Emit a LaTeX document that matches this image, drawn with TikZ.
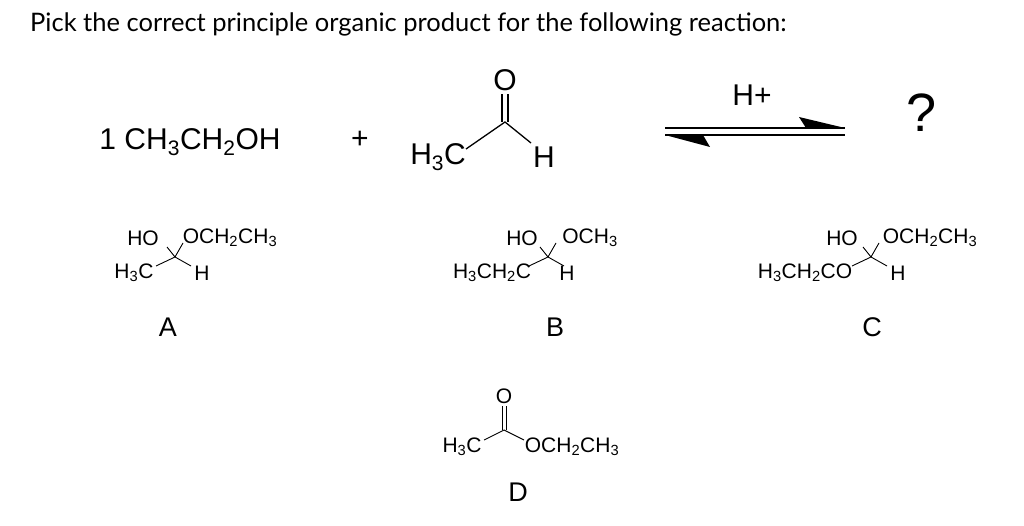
\documentclass[tikz,border=0pt]{standalone}
\usepackage{fontspec}
\setmainfont{Lato}
\newfontfamily\chemfont{Liberation Sans}
\usepackage{tikz}
\usetikzlibrary{calc}
\newcommand{\sub}[1]{\textsubscript{#1}}

\begin{document}
\begin{tikzpicture}[
      x=1pt, y=-1pt,
      big/.style={font=\chemfont\fontsize{30}{32}\selectfont, inner sep=0pt},
      small/.style={font=\chemfont\fontsize{21}{23}\selectfont, inner sep=0pt},
      letter/.style={font=\chemfont\fontsize{27}{29}\selectfont, inner sep=0pt},
      bond/.style={line width=1.3pt}
      ]
    \useasboundingbox (0,0) rectangle (1024,526);
    \node[anchor=west, inner sep=0pt, font=\fontsize{25.5}{27}\selectfont] (title) at (30,24) {Pick the correct principle organic product for the following reaction:};

    % reactants
    \node[big] (eth) at (190,142) {1 CH\sub{3}CH\sub{2}OH};
    \node[big] (plus) at (360,140) {+};
    \node[big] (ald1) at (438,157) {H\sub{3}C};
    \node[big] (ald2) at (544,157) {H};
    \node[big] (ald3) at (505,80) {O};
    \coordinate (c0) at (505,122);
    \draw[bond] (466,149) -- (c0) -- (531,143);
    \draw[bond] ($(c0)+(-3,0)$) -- ($(ald3.south)+(-3,3)$);
    \draw[bond] ($(c0)+(3,0)$) -- ($(ald3.south)+(3,3)$);

    % equilibrium arrow
    \node[big] (cat) at (752,95) {H+};
    \node[font=\chemfont\fontsize{54}{56}\selectfont, inner sep=0pt] (q) at (922,113) {?};
    \coordinate (r1) at (665,128);
    \coordinate (r2) at (845,128);
    \coordinate (l1) at (665,135);
    \coordinate (l2) at (845,135);
    \draw[line width=1.2pt] (r1) -- (r2);
    \draw[line width=1.2pt] (l1) -- (l2);
    \fill (r2) -- (799,117) -- (806,128) -- cycle;
    \fill (l1) -- (710,147) -- (703,135) -- cycle;

    % choice A
    \node[small] (a1) at (143,238) {HO};
    \node[small] (a2) at (230,238) {OCH\sub{2}CH\sub{3}};
    \node[small] (a3) at (134,273) {H\sub{3}C};
    \node[small] (a4) at (202,273) {H};
    \coordinate (ca) at (175,257);
    \draw[line width=0.9pt] (ca) -- (167,247) (ca) -- (183,243) (ca) -- (156,266) (ca) -- (191,266);
    \node[letter] (la) at (168,327) {A};

    % choice B
    \node[small] (b1) at (522,238) {HO};
    \node[small] (b2) at (590,238) {OCH\sub{3}};
    \node[small] (b3) at (492,273) {H\sub{3}CH\sub{2}C};
    \node[small] (b4) at (567,273) {H};
    \coordinate (cb) at (548,257);
    \draw[line width=0.9pt] (cb) -- (540,247) (cb) -- (556,243) (cb) -- (529,266) (cb) -- (564,266);
    \node[letter] (lb) at (555,327) {B};

    % choice C
    \node[small] (c1) at (842,238) {HO};
    \node[small] (c2) at (930,238) {OCH\sub{2}CH\sub{3}};
    \node[small] (c3) at (805,273) {H\sub{3}CH\sub{2}CO};
    \node[small] (c4) at (898,273) {H};
    \coordinate (cc) at (871,257);
    \draw[line width=0.9pt] (cc) -- (863,247) (cc) -- (879,243) (cc) -- (852,266) (cc) -- (887,266);
    \node[letter] (lc) at (872,327) {C};

    % choice D
    \node[small] (d1) at (504,396) {O};
    \node[small] (d2) at (462,447) {H\sub{3}C};
    \node[small] (d3) at (572,447) {OCH\sub{2}CH\sub{3}};
    \coordinate (cd) at (504,430);
    \draw[line width=0.9pt] (484,440) -- (cd) -- (524,440);
    \draw[line width=0.9pt] ($(cd)+(-2,0)$) -- ($(d1.south)+(-2,2)$);
    \draw[line width=0.9pt] ($(cd)+(2,0)$) -- ($(d1.south)+(2,2)$);
    \node[letter] (ld) at (518,492) {D};
  \end{tikzpicture}
\end{document}
